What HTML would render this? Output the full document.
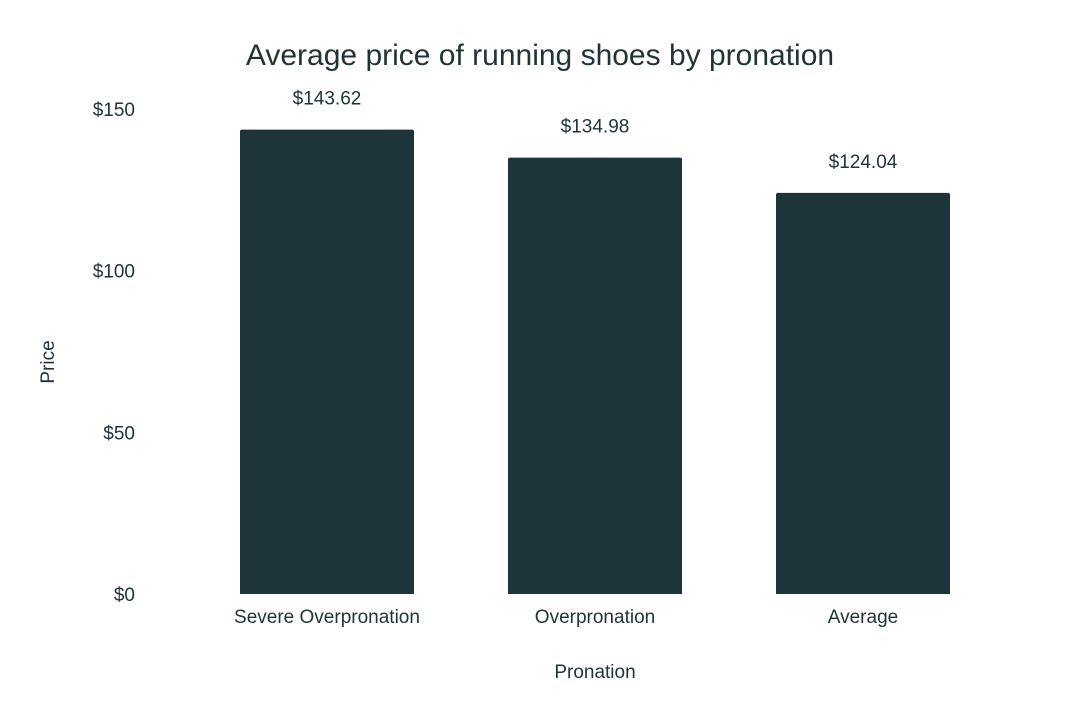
<!DOCTYPE html>
<html><head><meta charset="utf-8"><style>
body{margin:0;background:#fff;}
svg text{font-family:"Liberation Sans",sans-serif;fill:#1f3338;}
</style></head><body>
<svg id="chart" width="1080" height="720" xmlns="http://www.w3.org/2000/svg">
<text x="540" y="65" font-size="30" text-anchor="middle">Average price of running shoes by pronation</text>
<text transform="translate(54,362) rotate(-90)" font-size="19" text-anchor="middle">Price</text>
<text x="595" y="678" font-size="19" text-anchor="middle">Pronation</text>
<g id="marks"></g>
</svg>
<script>
const categories = ["Severe Overpronation","Overpronation","Average"];
const prices = [143.62,134.98,124.04];
const yTicks = [0,50,100,150];
const yTickLabels = ["$0","$50","$100","$150"];
const NS="http://www.w3.org/2000/svg";
const g=document.getElementById('marks');
function y(v){return 594 - v*(485/150);}
function xc(i){return 327 + i*268;}
const bw=174;
yTicks.forEach((t,i)=>{
  const tx=document.createElementNS(NS,'text');
  
  
  tx.setAttribute('x',135);tx.setAttribute('y',y(t)+7);
  tx.setAttribute('font-size','19');tx.setAttribute('text-anchor','end');
  tx.textContent=yTickLabels[i];g.appendChild(tx);
});
categories.forEach((c,i)=>{
  const top=y(prices[i]);
  const p=document.createElementNS(NS,'path');
  
  
  const x0=xc(i)-bw/2,x1=xc(i)+bw/2,r=2;
  p.setAttribute('d',`M${x0},594 L${x0},${top+r} Q${x0},${top} ${x0+r},${top} L${x1-r},${top} Q${x1},${top} ${x1},${top+r} L${x1},594 Z`);
  p.setAttribute('fill','#1c343a');g.appendChild(p);
  const v=document.createElementNS(NS,'text');
  
  
  v.setAttribute('x',xc(i));v.setAttribute('y',top-25);
  v.setAttribute('font-size','19');v.setAttribute('text-anchor','middle');
  v.textContent='$'+prices[i].toFixed(2);g.appendChild(v);
  const l=document.createElementNS(NS,'text');
  
  
  l.setAttribute('x',xc(i));l.setAttribute('y',623);
  l.setAttribute('font-size','19');l.setAttribute('text-anchor','middle');
  l.textContent=c;g.appendChild(l);
});
</script>
</body></html>
